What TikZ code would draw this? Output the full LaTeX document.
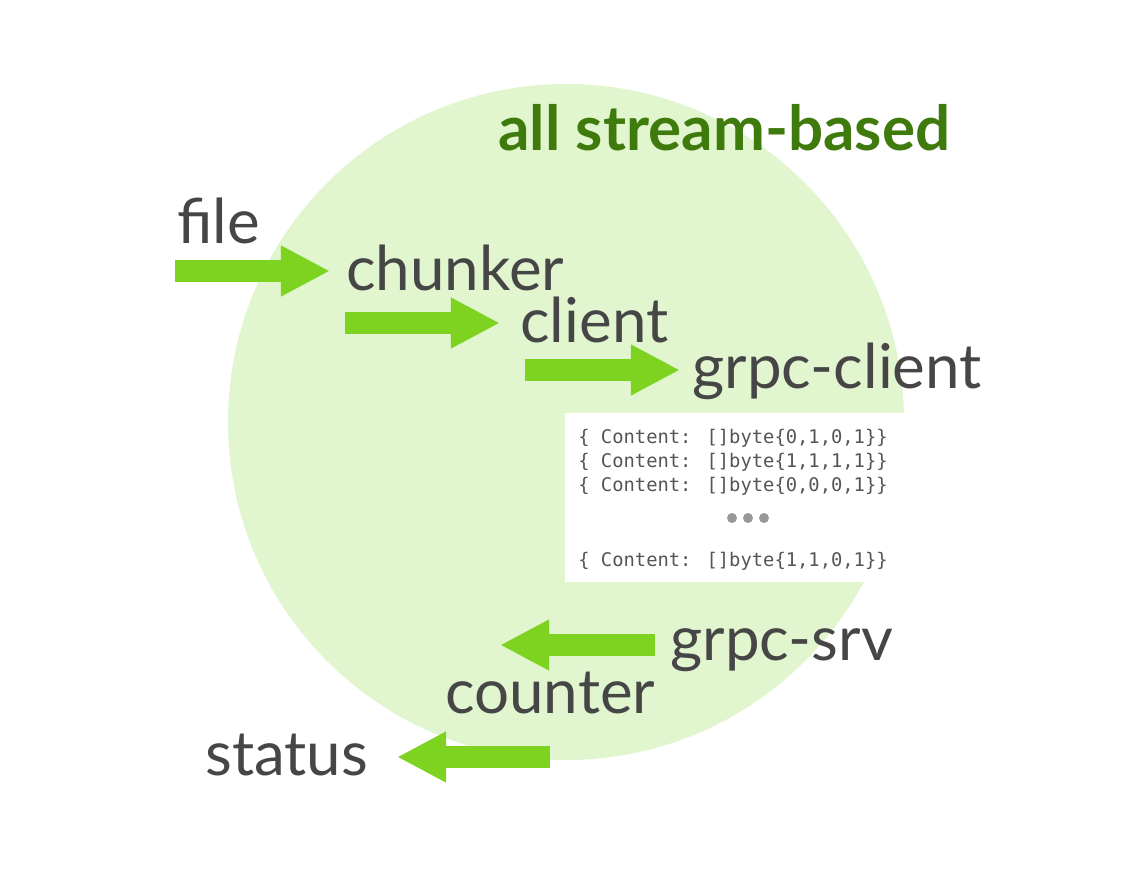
\documentclass[tikz,border=0pt]{standalone}
\usepackage{fontspec}
\setmainfont{Lato}
\newfontfamily\codefont{DejaVu Sans Mono}
\usetikzlibrary{arrows.meta}
\definecolor{bgc}{HTML}{E1F5CE}
\definecolor{arr}{HTML}{7ED321}
\definecolor{ttl}{HTML}{3F7A0C}
\definecolor{txt}{HTML}{464646}
\definecolor{code}{HTML}{555555}
\definecolor{dots}{HTML}{999999}
\begin{document}
\begin{tikzpicture}[x=0.02cm,y=-0.02cm,
  lbl/.style={anchor=base west,inner sep=0,text=txt,font=\fontsize{35.2}{40}\selectfont},
  flow/.style={draw=arr,line width=12.5pt,-{Triangle[length=28pt,width=27pt]}},
  codeline/.style={anchor=base west,inner sep=0,text=code,font=\codefont\fontsize{10.7}{12}\selectfont}]
\useasboundingbox (0,0) rectangle (1134,876);
\fill[bgc] (566,422) circle (338);
\fill[white] (565,413) rectangle (905,582);
\node[anchor=base west,inner sep=0,text=ttl,font=\bfseries\fontsize{35.3}{40}\selectfont] (title) at (498,150) {all stream-based};
\node[lbl] (file) at (177,243) {file};
\node[lbl] (chunker) at (346,290) {chunker};
\node[lbl] (client) at (520,342) {client};
\node[lbl] (gclient) at (692,388) {grpc-client};
\node[lbl] (gsrv) at (670,660) {grpc-srv};
\node[lbl] (counter) at (445,713) {counter};
\node[lbl] (status) at (205,775) {status};
\node[codeline] (c1) at (578,443) {\{ Content: []byte\{0,1,0,1\}\}};
\node[codeline] (c2) at (578,467) {\{ Content: []byte\{1,1,1,1\}\}};
\node[codeline] (c3) at (578,491) {\{ Content: []byte\{0,0,0,1\}\}};
\node[codeline] (c4) at (578,566) {\{ Content: []byte\{1,1,0,1\}\}};
\foreach \x in {732,748,764} \fill[dots] (\x,518) circle (5);
\coordinate (a1s) at (175,271); \coordinate (a1e) at (330,271);
\coordinate (a2s) at (345,323); \coordinate (a2e) at (500,323);
\coordinate (a3s) at (525,370); \coordinate (a3e) at (680,370);
\coordinate (a4s) at (655,645); \coordinate (a4e) at (500,645);
\coordinate (a5s) at (550,757); \coordinate (a5e) at (397,757);
\draw[flow] (a1s) -- (a1e);
\draw[flow] (a2s) -- (a2e);
\draw[flow] (a3s) -- (a3e);
\draw[flow] (a4s) -- (a4e);
\draw[flow] (a5s) -- (a5e);
\end{tikzpicture}
\end{document}
